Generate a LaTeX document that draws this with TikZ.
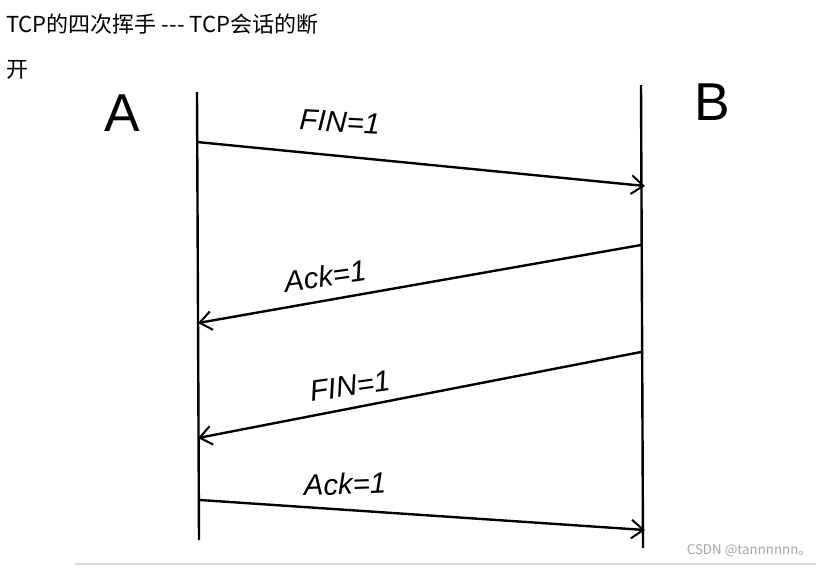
\documentclass[tikz,border=0pt]{standalone}
\usepackage{fontspec}
\setmainfont{Liberation Sans}
\newfontfamily\cjk{Noto Sans CJK SC}
\usetikzlibrary{arrows.meta}
\begin{document}
\begin{tikzpicture}[x=0.75pt,y=-0.75pt,
  life/.style={line width=1.8pt},
  msg/.style={line width=1.8pt,-{Straight Barb[length=9pt,width=14pt,line width=1.5pt]}},
  lbl/.style={font=\fontsize{22}{24}\selectfont\itshape, inner sep=0pt},
  big/.style={font=\fontsize{40}{42}\selectfont, inner sep=0pt}]
\useasboundingbox[fill=white] (0,0) rectangle (816,568);
\node[anchor=west,inner sep=0pt,font=\cjk\fontsize{16.5}{18}\selectfont] (t1) at (6,24) {TCP的四次挥手 --- TCP会话的断};
\node[anchor=west,inner sep=0pt,font=\cjk\fontsize{16.5}{18}\selectfont] (t2) at (6,70) {开};
\coordinate (la) at (197,92); \coordinate (lb) at (199,540);
\coordinate (ra) at (641,85); \coordinate (rb) at (643,548);
\draw[life] (la) -- (lb);
\draw[life] (ra) -- (rb);
\node[big] (A) at (122,113) {A};
\node[big] (B) at (712,102) {B};
\coordinate (a1) at (197,142); \coordinate (b1) at (645,186);
\coordinate (a2) at (641,245); \coordinate (b2) at (198,323);
\coordinate (a3) at (641,352); \coordinate (b3) at (198,438);
\coordinate (a4) at (200,500); \coordinate (b4) at (645,530);
\draw[msg] (a1) -- (b1);
\draw[msg] (a2) -- (b2);
\draw[msg] (a3) -- (b3);
\draw[msg] (a4) -- (b4);
\node[lbl,rotate=-3] (l1) at (340,122) {FIN=1};
\node[lbl,rotate=8] (l2) at (325,276) {Ack=1};
\node[lbl,rotate=8] (l3) at (350,386) {FIN=1};
\node[lbl,rotate=2] (l4) at (345,484) {Ack=1};
\draw[gray!30,line width=1pt] (75,564) -- (816,564);
\node[anchor=east,inner sep=0pt,text=gray!70,font=\cjk\fontsize{10}{12}\selectfont] (wm) at (812,551) {CSDN @tannnnnn。};
\end{tikzpicture}
\end{document}
